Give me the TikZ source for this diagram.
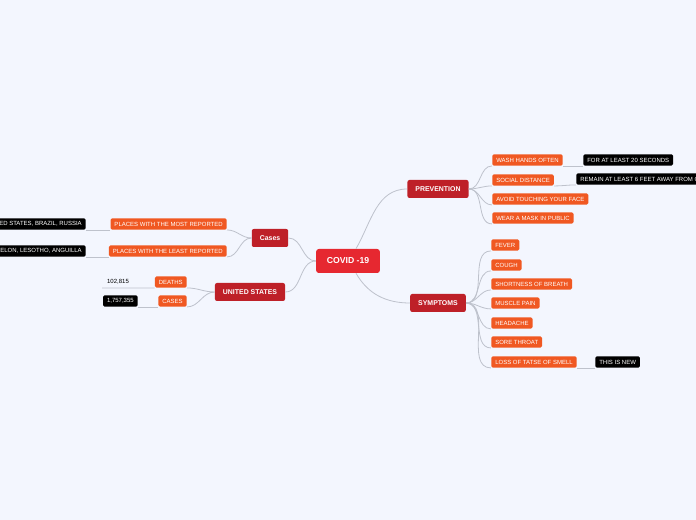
\documentclass[tikz,border=0pt]{standalone}
\usepackage{fontspec}
\setmainfont{Liberation Sans}
\definecolor{bgc}{RGB}{243,246,254}
\definecolor{mainc}{RGB}{230,40,48}
\definecolor{subc}{RGB}{190,32,40}
\definecolor{leafc}{RGB}{240,88,34}
\definecolor{linec}{RGB}{190,194,204}
\begin{document}
\begin{tikzpicture}[x=0.75pt,y=-0.75pt,
 main/.style={fill=mainc,text=white,font=\fontsize{6.5}{7}\selectfont\bfseries,rounded corners=2pt,minimum height=18,inner xsep=8pt},
 sub/.style={fill=subc,text=white,font=\fontsize{5.2}{6}\selectfont\bfseries,rounded corners=1.5pt,minimum height=13.5,inner xsep=6pt},
 leaf/.style={fill=leafc,text=white,font=\fontsize{4.5}{5}\selectfont,rounded corners=1.2pt,minimum height=8.5,inner xsep=3pt,inner ysep=0pt},
 blk/.style={fill=black,text=white,font=\fontsize{4.5}{5}\selectfont,rounded corners=1.2pt,minimum height=8.5,inner xsep=3pt,inner ysep=0pt},
 plain/.style={font=\fontsize{4.5}{5}\selectfont,inner sep=1pt},
 con/.style={draw=linec,line width=0.6pt}]
\fill[bgc] (0,0) rectangle (696,520);
\clip (0,0) rectangle (696,520);
\node[main] (c) at (348,261) {COVID -19};
\node[sub] (p) at (438,189) {PREVENTION};
\node[sub] (s) at (438,303) {SYMPTOMS};
\node[sub] (ca) at (270,238) {Cases};
\node[sub] (us) at (250,292) {UNITED STATES};
\draw[con] (c.north) ++(8,0) coordinate (cn) (cn) to[out=60,in=180] (p.west);
\draw[con] (c.south) ++(8,0) coordinate (cs) (cs) to[out=-60,in=180] (s.west);
\draw[con] (c.west) to[out=180,in=0] (ca.east);
\draw[con] (c.west) to[out=180,in=0] (us.east);
% prevention
\foreach \n/\y/\t in {p1/160/WASH HANDS OFTEN,p2/180/SOCIAL DISTANCE,p3/199/AVOID TOUCHING YOUR FACE,p4/218/WEAR A MASK IN PUBLIC}{
 \node[leaf,anchor=west] (\n) at (492,\y) {\t};
 \draw[con] (p.east) to[out=0,in=180] (\n.south west);}
\node[blk,anchor=west] (p1a) at (583,160) {FOR AT LEAST 20 SECONDS};
\node[blk,anchor=west] (p2a) at (576,179) {REMAIN AT LEAST 6 FEET AWAY FROM OTHERS};
\draw[con] (p1.south east) to[out=0,in=180] (p1a.south west);
\draw[con] (p2.south east) to[out=0,in=180] (p2a.south west);
% symptoms
\foreach \n/\y/\t in {s1/245/FEVER,s2/265/COUGH,s3/284/SHORTNESS OF BREATH,s4/303/MUSCLE PAIN,s5/323/HEADACHE,s6/342/SORE THROAT,s7/362/LOSS OF TATSE OF SMELL}{
 \node[leaf,anchor=west] (\n) at (491,\y) {\t};
 \draw[con] (s.east) to[out=0,in=180] (\n.south west);}
\node[blk,anchor=west] (s7a) at (595,362) {THIS IS NEW};
\draw[con] (s7.south east) to[out=0,in=180] (s7a.south west);
% cases
\node[leaf,anchor=east] (c1) at (227,224) {PLACES WITH THE MOST REPORTED};
\node[leaf,anchor=east] (c2) at (227,251) {PLACES WITH THE LEAST REPORTED};
\draw[con] (ca.west) to[out=180,in=0] (c1.south east);
\draw[con] (ca.west) to[out=180,in=0] (c2.south east);
\node[blk,anchor=east] (c1a) at (86,224) {UNITED STATES, BRAZIL, RUSSIA};
\node[blk,anchor=east] (c2a) at (86,251) {SAINT PIERRE AND MIQUELON, LESOTHO, ANGUILLA};
\draw[con] (c1.south west) to[out=180,in=0] (c1a.south east);
\draw[con] (c2.south west) to[out=180,in=0] (c2a.south east);
% US
\node[leaf,anchor=east] (u1) at (187,282) {DEATHS};
\node[leaf,anchor=east] (u2) at (187,301) {CASES};
\draw[con] (us.west) to[out=180,in=0] (u1.south east);
\draw[con] (us.west) to[out=180,in=0] (u2.south east);
\node[plain] (u1a) at (118,282) {102,815};
\coordinate (u1b) at (102,288);
\draw[con] (u1.south west) to[out=180,in=0] (u1b);
\node[blk,anchor=east] (u2a) at (138,301) {1,757,355};
\draw[con] (u2.south west) to[out=180,in=0] (u2a.south east);
\end{tikzpicture}
\end{document}
